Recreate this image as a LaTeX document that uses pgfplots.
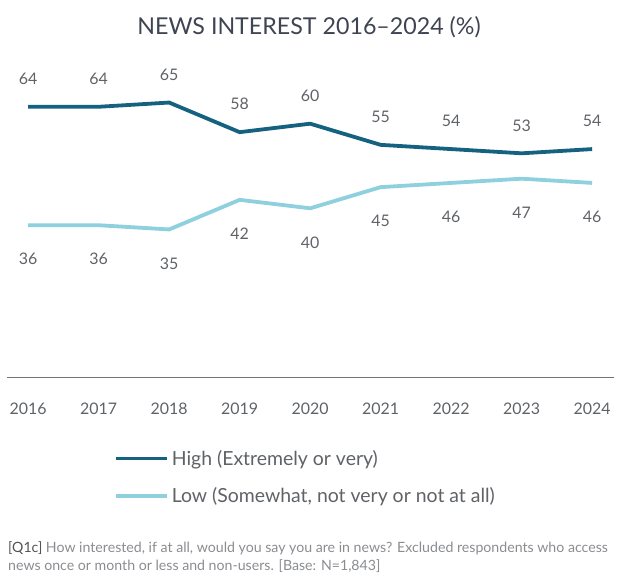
\documentclass[border=0pt]{standalone}
\usepackage{pgfplots}
\pgfplotsset{compat=1.18}
\usepackage{fontspec}
\setmainfont{Lato}
\definecolor{hi}{HTML}{14627F}
\definecolor{lo}{HTML}{8ED0DD}
\definecolor{txt}{HTML}{5F6266}
\definecolor{ttl}{HTML}{3E4452}
\definecolor{note}{HTML}{8A8C90}
\begin{document}
\begin{tikzpicture}
\path[use as bounding box] (0bp,0bp) rectangle (630bp,580bp);
\begin{axis}[
  at={(7bp,202.5bp)}, anchor=south west,
  scale only axis, width=607bp, height=296.1bp,
  xmin=-0.3, xmax=8.31, ymin=0, ymax=70,
  axis y line=none, axis x line*=bottom,
  axis line style={draw=black!55, line width=1.3bp},
  xtick={0,...,8}, major tick length=0pt,
  xticklabels={2016,2017,2018,2019,2020,2021,2022,2023,2024},
  xticklabel style={font=\fontsize{16}{19}\selectfont, text=txt, yshift=-21.5bp},
  /pgf/number format/assume math mode=true,
  clip=false,
  nodes near coords,
  nodes near coords style={font=\fontsize{16}{19}\selectfont, text=txt, anchor=center},
  legend style={at={(0.176,-0.238)}, anchor=north west, draw=none, fill=none,
    inner sep=0pt, font=\fontsize{19.5}{23}\selectfont, text=txt, row sep=17bp,
    /tikz/every odd column/.style={column sep=1bp}},
  legend cell align=left,
  legend image code/.code={\draw[#1, line width=3.8bp] (0bp,0bp) -- (51bp,0bp);},
]
\addplot[hi, line width=3.8bp, no marks,
  every node near coord/.append style={yshift=28bp}]
  coordinates {(0,64) (1,64) (2,65) (3,58) (4,60) (5,55) (6,54) (7,53) (8,54)};
\addlegendentry{High (Extremely or very)}
\addplot[lo, line width=3.8bp, no marks,
  every node near coord/.append style={yshift=-34bp}]
  coordinates {(0,36) (1,36) (2,35) (3,42) (4,40) (5,45) (6,46) (7,47) (8,46)};
\addlegendentry{Low (Somewhat, not very or not at all)}
\end{axis}
\node[text=ttl, font=\fontsize{23.3}{27}\selectfont] at (309bp,553bp) {NEWS INTEREST 2016–2024 (\%)};
\node[anchor=base west, align=left, inner sep=0pt, text=note,
  font=\fontsize{14.2}{17.5}\selectfont] at (8bp,10bp)
  {{\color{txt!85!black}[Q1c]} How interested, if at all, would you say you are in news? Excluded respondents who access\\
   news once or month or less and non-users. [Base: N=1,843]};
\end{tikzpicture}
\end{document}
